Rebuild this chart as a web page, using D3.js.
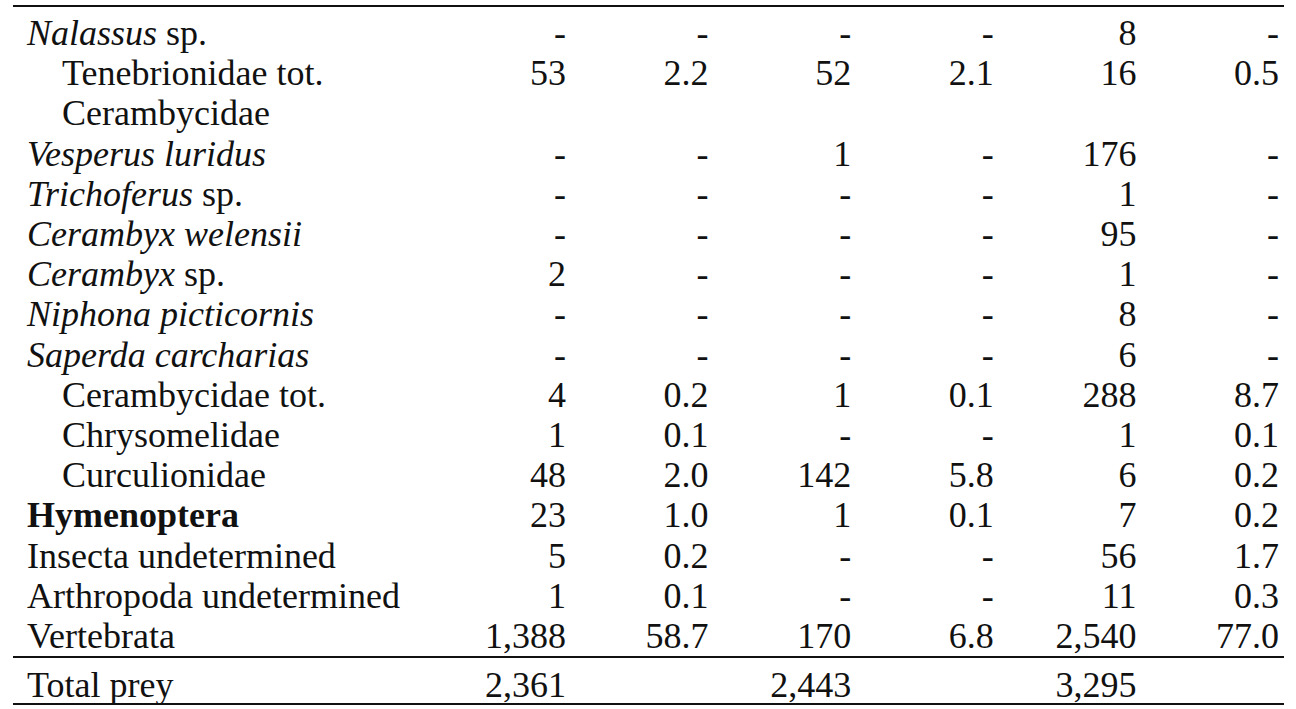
<!DOCTYPE html>
<html><head><meta charset="utf-8">
<script src="https://cdn.jsdelivr.net/npm/d3@7"></script>
<style>body{margin:0;background:#fff}text{font-family:"Liberation Serif","Times New Roman",serif;font-size:36px;fill:#111}</style>
</head><body><div id="tbl"></div>
<script>
// row labels, style: n = normal, i = italic, d = indented, b = bold
let labels = ["Nalassus sp.","Tenebrionidae tot.","Cerambycidae","Vesperus luridus","Trichoferus sp.","Cerambyx welensii","Cerambyx sp.","Niphona picticornis","Saperda carcharias","Cerambycidae tot.","Chrysomelidae","Curculionidae","Hymenoptera","Insecta undetermined","Arthropoda undetermined","Vertebrata"];
let styles = ["i","d","d","i","i","i","i","i","i","d","d","d","b","n","n","n"];
// italic part of species labels (the rest, e.g. " sp.", is upright)
let italicPart = {"Nalassus sp.":"Nalassus","Trichoferus sp.":"Trichoferus","Cerambyx sp.":"Cerambyx"};
let values = [
  ["-","-","-","-","8","-"],
  ["53","2.2","52","2.1","16","0.5"],
  ["","","","","",""],
  ["-","-","1","-","176","-"],
  ["-","-","-","-","1","-"],
  ["-","-","-","-","95","-"],
  ["2","-","-","-","1","-"],
  ["-","-","-","-","8","-"],
  ["-","-","-","-","6","-"],
  ["4","0.2","1","0.1","288","8.7"],
  ["1","0.1","-","-","1","0.1"],
  ["48","2.0","142","5.8","6","0.2"],
  ["23","1.0","1","0.1","7","0.2"],
  ["5","0.2","-","-","56","1.7"],
  ["1","0.1","-","-","11","0.3"],
  ["1,388","58.7","170","6.8","2,540","77.0"]
];
let totalLabel = "Total prey";
let totals = ["2,361","","2,443","","3,295",""];

let W = 1296, H = 709;
let svg = d3.select("#tbl").append("svg").attr("width", W).attr("height", H);

// column right edges
let x = d3.scaleLinear().domain([0, 5]).range([566, 1279]);
// row baselines
let y = d3.scaleLinear().domain([0, 15]).range([45, 648]);

// rules
[6, 657, 704].forEach(function(ly){
    svg.append("line").attr("x1", 13).attr("x2", 1284).attr("y1", ly).attr("y2", ly).attr("stroke", "#111").attr("stroke-width", 2);
});

labels.forEach(function(l, i){
    let st = styles[i];
    let t = svg.append("text").attr("x", st == "d" ? 62 : 27).attr("y", y(i));
    if (st == "b") t.style("font-weight", "bold").text(l);
    else if (st == "i") {
        let it = italicPart[l] || l;
        t.append("tspan").style("font-style", "italic").text(it);
        if (it != l) t.append("tspan").text(l.slice(it.length));
    }
    else t.text(l);
    values[i].forEach(function(v, j){
        if (v) svg.append("text").attr("x", x(j)).attr("y", y(i)).attr("text-anchor", "end").text(v);
    });
});

let ty = 697;
svg.append("text").attr("x", 27).attr("y", ty).text(totalLabel);
totals.forEach(function(v, j){
    if (v) svg.append("text").attr("x", x(j)).attr("y", ty).attr("text-anchor", "end").text(v);
});
</script></body></html>
